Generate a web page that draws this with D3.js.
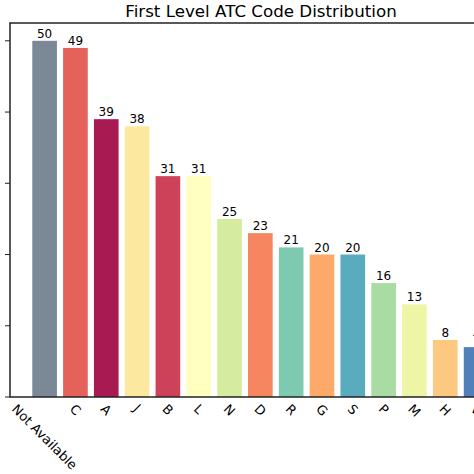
<!DOCTYPE html>
<html>
<head>
<meta charset="utf-8">
<script src="https://cdn.jsdelivr.net/npm/d3@7"></script>
<style>
  html, body { margin: 0; padding: 0; background: #fff; overflow: hidden; }
  text { font-family: "DejaVu Sans", sans-serif; fill: #000; }
</style>
</head>
<body>
<div id="chart"></div>
<script>
var categories = ["Not Available", "C", "A", "J", "B", "L", "N", "D", "R", "G", "S", "P", "M", "H", "V"];
var counts = [50, 49, 39, 38, 31, 31, 25, 23, 21, 20, 20, 16, 13, 8, 7];
var colors = ["#7b8997", "#e5625a", "#a71b52", "#fde89f", "#cd4259", "#ffffbf", "#d5eca0",
              "#f5865f", "#7ecab0", "#fca96a", "#59abbe", "#a9dca3", "#eef6a5", "#fdc981", "#4f80b9"];
var yTicks = [0, 10, 20, 30, 40, 50];

var width = 474, height = 474;
var plotLeft = 10, plotTop = 23, plotBottom = 397;
var step = 30.82;
var rangeStart = 29.2;

var svg = d3.select("#chart").append("svg")
    .attr("width", width)
    .attr("height", height);

var x = d3.scaleBand()
    .domain(categories)
    .range([rangeStart, rangeStart + step * categories.length])
    .paddingInner(0.2)
    .paddingOuter(0.1);

var y = d3.scaleLinear()
    .domain([0, 52.5])
    .range([plotBottom, plotTop]);

var g = svg.append("g");

g.selectAll(".bar")
    .data(categories)
    .enter().append("rect")
    .attr("class", "bar")
    .attr("x", function(d) { return x(d); })
    .attr("width", x.bandwidth())
    .attr("y", function(d, i) { return y(counts[i]); })
    .attr("height", function(d, i) { return plotBottom - y(counts[i]); })
    .attr("fill", function(d, i) { return colors[i]; });

g.selectAll(".val")
    .data(categories)
    .enter().append("text")
    .attr("class", "val")
    .attr("x", function(d) { return x(d) + x.bandwidth() / 2; })
    .attr("y", function(d, i) { return y(counts[i]) - 3; })
    .attr("text-anchor", "middle")
    .style("font-size", "12px")
    .text(function(d, i) { return counts[i]; });

// spines
g.append("line").attr("x1", plotLeft).attr("x2", plotLeft).attr("y1", plotTop).attr("y2", plotBottom)
    .attr("stroke", "#222").attr("stroke-width", 1.5);
g.append("line").attr("x1", plotLeft - 0.75).attr("x2", width).attr("y1", plotTop).attr("y2", plotTop)
    .attr("stroke", "#222").attr("stroke-width", 1.5);
g.append("line").attr("x1", plotLeft - 0.75).attr("x2", width).attr("y1", plotBottom).attr("y2", plotBottom)
    .attr("stroke", "#222").attr("stroke-width", 1.5);

// y ticks (labels fall outside the crop)
g.selectAll(".ytick")
    .data(yTicks)
    .enter().append("line")
    .attr("x1", plotLeft - 5).attr("x2", plotLeft)
    .attr("y1", function(d) { return y(d); })
    .attr("y2", function(d) { return y(d); })
    .attr("stroke", "#222").attr("stroke-width", 1);

// x tick labels rotated 45 degrees, matplotlib style (ha center, va top)
var fs = 13;
var lab = g.selectAll(".xl")
    .data(categories)
    .enter().append("g")
    .attr("class", "xl");

lab.append("text")
    .attr("text-anchor", "middle")
    .attr("dy", "0.35em")
    .style("font-size", fs + "px")
    .text(function(d) { return d; });

lab.attr("transform", function(d) {
    var w = this.querySelector("text").getComputedTextLength();
    var h = (w + fs) * Math.SQRT1_2;
    var cx = x(d) + x.bandwidth() / 2;
    return "translate(" + cx + "," + (plotBottom + 5 + h / 2) + ") rotate(45)";
});

svg.append("text")
    .attr("x", 261)
    .attr("y", 16.5)
    .attr("text-anchor", "middle")
    .style("font-size", "16.7px")
    .text("First Level ATC Code Distribution");
</script>
</body>
</html>
